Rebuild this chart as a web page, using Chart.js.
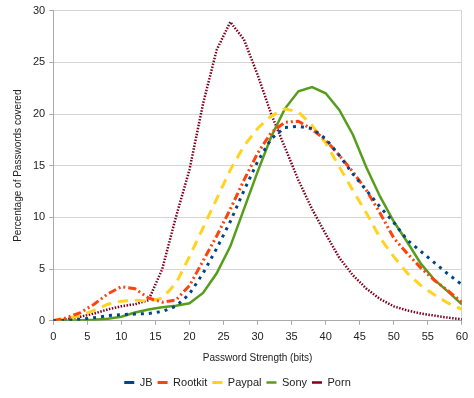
<!DOCTYPE html>
<html>
<head>
<meta charset="utf-8">
<script src="https://cdn.jsdelivr.net/npm/chart.js@4"></script>
<style>
  html, body { margin: 0; padding: 0; background: #fff; }
  #wrap { width: 474px; height: 398px; }
</style>
</head>
<body>
<div id="wrap"><canvas id="chart" width="474" height="398"></canvas></div>
<script>
// Password strength in bits (x)
const bits = [0, 2, 4, 6, 8, 10, 12, 14, 16, 18, 20, 22, 24, 26, 28, 30,
              32, 34, 36, 38, 40, 42, 44, 46, 48, 50, 52, 54, 56, 58, 60];

// Percentage of passwords covered, per leak
const jb      = [0, 0.05, 0.15, 0.3, 0.5, 0.6, 0.65, 0.7, 0.9, 1.4, 2.6, 4.6, 7.0, 9.6, 12.6, 15.4,
                 17.6, 18.7, 18.8, 18.6, 17.6, 16.0, 14.2, 12.6, 11.0, 9.5, 7.8, 6.7, 5.6, 4.5, 3.5];
const rootkit = [0, 0.3, 0.8, 1.6, 2.6, 3.3, 3.1, 2.2, 1.8, 2.0, 3.4, 5.8, 8.2, 10.8, 13.6, 16.2,
                 18.2, 19.2, 19.3, 18.5, 17.5, 16.0, 14.4, 12.6, 10.4, 8.0, 6.5, 5.1, 3.9, 2.9, 1.8];
const paypal  = [0, 0.2, 0.5, 1.0, 1.6, 1.9, 2.0, 1.9, 2.2, 3.6, 6.2, 9.0, 11.8, 14.6, 16.9, 18.6,
                 19.8, 20.5, 20.2, 18.9, 17.2, 14.9, 12.6, 10.4, 8.0, 6.2, 4.6, 3.4, 2.5, 1.7, 1.1];
const sony    = [0, 0, 0.05, 0.1, 0.2, 0.4, 0.8, 1.1, 1.3, 1.45, 1.7, 2.7, 4.6, 7.2, 10.8, 14.4,
                 17.8, 20.5, 22.2, 22.6, 22.0, 20.4, 18.0, 14.8, 12.0, 9.6, 7.6, 5.5, 3.95, 2.8, 1.6];
const porn    = [0, 0.15, 0.4, 0.7, 1.1, 1.4, 1.6, 2.0, 5.0, 10.0, 14.6, 21.0, 26.2, 28.9, 27.2, 23.8,
                 20.0, 16.8, 13.6, 10.8, 8.4, 6.1, 4.4, 3.1, 2.1, 1.4, 1.0, 0.7, 0.5, 0.3, 0.15];

function points(values) {
    return bits.map((b, i) => ({ x: b, y: values[i] }));
}

function series(label, values, color, dash, width) {
    return {
        label: label,
        data: points(values),
        borderColor: color,
        backgroundColor: color,
        borderWidth: width,
        borderDash: dash,
        borderCapStyle: 'butt',
        pointRadius: 0,
        pointStyle: 'line',
        tension: 0,
        fill: false
    };
}

const font = 'Liberation Sans, Arial, sans-serif';

new Chart(document.getElementById('chart'), {
    type: 'line',
    data: {
        datasets: [
            series('JB', jb, '#004586', [3, 5], 3),
            series('Rootkit', rootkit, '#ff420e', [8, 3, 2, 3, 2, 3], 3),
            series('Paypal', paypal, '#ffd320', [10, 7], 3),
            series('Sony', sony, '#579d1c', [], 2.5),
            series('Porn', porn, '#7e0021', [1.5, 1.5], 2.5)
        ]
    },
    options: {
        responsive: false,
        animation: false,
        layout: { padding: { top: 8, right: 11, left: 12, bottom: 0 } },
        plugins: {
            legend: {
                position: 'bottom',
                labels: {
                    usePointStyle: true,
                    pointStyleWidth: 10,
                    boxHeight: 10,
                    padding: 5,
                    color: '#222',
                    font: { family: font, size: 11 }
                }
            },
            tooltip: { enabled: false }
        },
        scales: {
            x: {
                type: 'linear',
                min: 0,
                max: 60,
                ticks: { stepSize: 5, color: '#222', font: { family: font, size: 11 }, padding: 6, maxRotation: 0 },
                grid: {
                    color: ctx => ctx.tick && ctx.tick.value === 60 ? '#d4d4d4' : 'rgba(0,0,0,0)',
                    tickColor: '#aaa',
                    tickLength: 4,
                    drawTicks: true
                },
                border: { color: '#aaa' },
                title: {
                    display: true,
                    text: 'Password Strength (bits)',
                    color: '#222',
                    font: { family: font, size: 10 },
                    padding: { top: 2, bottom: 8 }
                }
            },
            y: {
                min: 0,
                max: 30,
                ticks: { stepSize: 5, color: '#222', font: { family: font, size: 11 }, padding: 4 },
                grid: { color: '#d4d4d4', tickColor: '#aaa', tickLength: 4 },
                border: { color: '#aaa' },
                title: {
                    display: true,
                    text: 'Percentage of Passwords covered',
                    color: '#222',
                    font: { family: font, size: 10 },
                    padding: { top: 0, bottom: 5 }
                }
            }
        }
    }
});
</script>
</body>
</html>
